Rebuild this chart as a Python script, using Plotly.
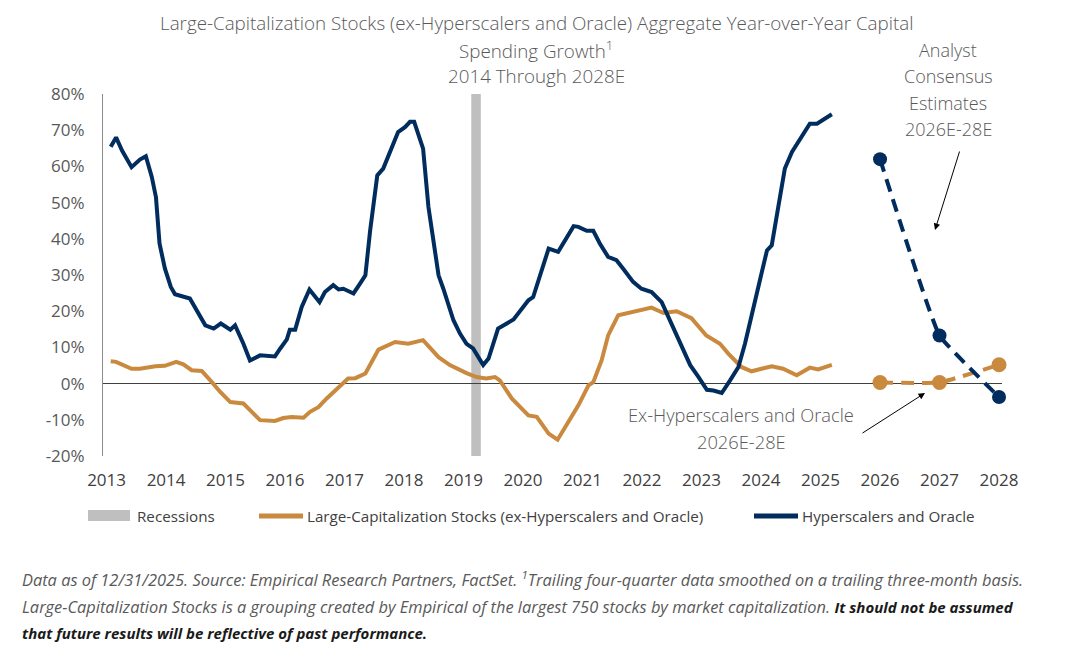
import plotly.graph_objects as go

# ---------------- data ----------------
years = list(range(2013, 2029))
year_labels = [str(y) for y in years]
y_ticks = list(range(-20, 81, 10))
y_labels = [f"{v}%" for v in y_ticks]

hyp_x = [2013.07, 2013.16, 2013.26, 2013.42, 2013.56, 2013.66, 2013.76, 2013.83, 2013.89, 2013.98,
         2014.08, 2014.15, 2014.40, 2014.52, 2014.66, 2014.80, 2014.92, 2015.08, 2015.16, 2015.30,
         2015.41, 2015.58, 2015.83, 2015.92, 2016.03, 2016.08, 2016.17, 2016.28, 2016.41, 2016.58,
         2016.67, 2016.81, 2016.90, 2016.98, 2017.15, 2017.26, 2017.35, 2017.43, 2017.55, 2017.65,
         2017.76, 2017.90, 2018.02, 2018.10, 2018.17, 2018.32, 2018.41, 2018.49, 2018.58, 2018.66,
         2018.83, 2018.94, 2019.05, 2019.16, 2019.33, 2019.42, 2019.58, 2019.84, 2019.98, 2020.09,
         2020.17, 2020.43, 2020.59, 2020.73, 2020.85, 2020.93, 2021.07, 2021.18, 2021.29, 2021.43,
         2021.57, 2021.68, 2021.85, 2021.99, 2022.16, 2022.33, 2022.47, 2022.64, 2022.81, 2022.95,
         2023.09, 2023.20, 2023.34, 2023.48, 2023.62, 2023.73, 2023.87, 2023.98, 2024.10, 2024.18,
         2024.29, 2024.40, 2024.52, 2024.68, 2024.82, 2024.94, 2025.19]
hyp_y = [65.4, 68.0, 64.4, 59.8, 61.9, 62.8, 57.1, 51.5, 38.7, 31.8,
         26.7, 24.7, 23.5, 20.2, 16.1, 15.2, 16.6, 14.9, 16.1, 11.0,
         6.4, 7.8, 7.5, 9.7, 12.2, 14.9, 14.9, 21.2, 26.0, 22.5,
         25.3, 27.2, 26.0, 26.2, 24.9, 27.6, 29.9, 42.3, 57.5, 59.4,
         64.0, 69.5, 70.9, 72.3, 72.3, 64.9, 48.8, 39.6, 29.9, 26.2,
         17.5, 13.8, 11.0, 9.7, 5.1, 6.9, 15.2, 17.7, 20.7, 23.0,
         23.9, 37.3, 36.4, 40.1, 43.5, 43.3, 42.2, 42.2, 38.7, 35.0,
         34.1, 31.8, 28.1, 26.2, 25.3, 22.5, 17.5, 11.0, 5.1, 1.8,
         -1.7, -1.9, -2.6, 0.9, 4.6, 11.0, 20.2, 28.5, 36.8, 38.2,
         48.8, 59.4, 64.0, 68.1, 71.8, 71.8, 74.4]

ex_x = [2013.07, 2013.16, 2013.42, 2013.56, 2013.82, 2013.98, 2014.17, 2014.29, 2014.43, 2014.60,
        2014.77, 2014.91, 2015.08, 2015.30, 2015.44, 2015.58, 2015.83, 2015.97, 2016.11, 2016.31,
        2016.42, 2016.56, 2016.70, 2016.92, 2017.06, 2017.18, 2017.35, 2017.57, 2017.71, 2017.85,
        2018.07, 2018.21, 2018.32, 2018.58, 2018.77, 2019.05, 2019.22, 2019.38, 2019.53, 2019.61,
        2019.81, 2020.09, 2020.23, 2020.43, 2020.58, 2020.71, 2020.93, 2021.10, 2021.18, 2021.32,
        2021.43, 2021.60, 2021.82, 2022.16, 2022.36, 2022.58, 2022.83, 2023.08, 2023.31, 2023.45,
        2023.67, 2023.84, 2024.18, 2024.37, 2024.60, 2024.82, 2024.96, 2025.19]
ex_y = [6.2, 6.0, 4.1, 4.1, 4.8, 4.9, 6.0, 5.3, 3.7, 3.5,
        0.4, -2.3, -5.1, -5.5, -7.8, -10.1, -10.3, -9.5, -9.2, -9.4,
        -7.8, -6.5, -4.1, -0.9, 1.4, 1.5, 2.8, 9.4, 10.6, 11.5,
        11.0, 11.7, 12.0, 7.3, 5.1, 2.9, 1.8, 1.4, 1.8, 0.9,
        -4.1, -8.8, -9.2, -13.8, -15.5, -12.0, -6.0, -0.5, 0.4, 6.4,
        13.3, 18.9, 19.8, 21.0, 19.5, 20.0, 18.1, 13.3, 11.0, 8.3,
        4.6, 3.4, 4.8, 4.1, 2.3, 4.4, 3.9, 5.2]

est_x = [2026, 2027, 2028]
hyp_est = [62.0, 13.3, -3.7]
ex_est = [0.3, 0.3, 5.2]

recession_start = [2019.13]
recession_end = [2019.29]

title_lines = ["Large-Capitalization Stocks (ex-Hyperscalers and Oracle) Aggregate Year-over-Year Capital",
               "Spending Growth<sup>1</sup>",
               "2014 Through 2028E"]
analyst_lines = ["Analyst", "Consensus", "Estimates", "2026E-28E"]
ex_note_lines = ["Ex-Hyperscalers and Oracle", "2026E-28E"]
legend_names = ["Recessions", "Large-Capitalization Stocks (ex-Hyperscalers and Oracle)", "Hyperscalers and Oracle"]

# ---------------- styling ----------------
BLUE = "#002d5e"
ORANGE = "#c98a3f"
GRAY_REC = "#bfbfbf"
TXT = "#595959"
FONT = "Open Sans"

W, H = 1073, 658
L, R, T, B = 103, 71, 94, 202
PW, PH = W - L - R, H - T - B


def px(xp):
    return (xp - L) / PW


def py(yp):
    return (H - B - yp) / PH


fig = go.Figure()

fig.add_trace(go.Scatter(x=ex_x, y=ex_y, mode="lines", line=dict(color=ORANGE, width=4),
                         showlegend=False, hoverinfo="skip"))
fig.add_trace(go.Scatter(x=hyp_x, y=hyp_y, mode="lines", line=dict(color=BLUE, width=4),
                         showlegend=False, hoverinfo="skip"))
fig.add_trace(go.Scatter(x=est_x, y=ex_est, mode="lines+markers",
                         line=dict(color=ORANGE, width=4, dash="13px,8px", shape="spline", smoothing=0.3),
                         marker=dict(color=ORANGE, size=15), showlegend=False, cliponaxis=False))
fig.add_trace(go.Scatter(x=est_x, y=hyp_est, mode="lines+markers",
                         line=dict(color=BLUE, width=4, dash="13px,8px", shape="spline", smoothing=0.3),
                         marker=dict(color=BLUE, size=14), showlegend=False, cliponaxis=False))

shapes = []
for x0, x1 in zip(recession_start, recession_end):
    shapes.append(dict(type="rect", xref="x", yref="paper", x0=x0, x1=x1, y0=0, y1=1,
                       fillcolor=GRAY_REC, line=dict(width=0), layer="below"))

# manual legend
leg_y = py(516)
shapes.append(dict(type="rect", xref="paper", yref="paper", x0=px(88), x1=px(130),
                   y0=py(521), y1=py(510), fillcolor=GRAY_REC, line=dict(width=0)))
shapes.append(dict(type="line", xref="paper", yref="paper", x0=px(259), x1=px(303),
                   y0=leg_y, y1=leg_y, line=dict(color=ORANGE, width=5)))
shapes.append(dict(type="line", xref="paper", yref="paper", x0=px(754), x1=px(798),
                   y0=leg_y, y1=leg_y, line=dict(color=BLUE, width=5)))

annotations = []
for txt, yy in zip(title_lines, [23, 50, 76]):
    annotations.append(dict(text=txt, xref="paper", yref="paper", x=px(536), y=py(yy),
                            xanchor="center", yanchor="middle", showarrow=False,
                            font=dict(family=FONT, size=18.8, color=TXT, weight=300)))
for txt, yy in zip(analyst_lines, [50, 76, 103, 129]):
    annotations.append(dict(text=txt, xref="paper", yref="paper", x=px(948), y=py(yy),
                            xanchor="center", yanchor="middle", showarrow=False,
                            font=dict(family=FONT, size=18, color=TXT, weight=300)))
for txt, yy in zip(ex_note_lines, [414, 441]):
    annotations.append(dict(text=txt, xref="paper", yref="paper", x=px(741), y=py(yy),
                            xanchor="center", yanchor="middle", showarrow=False,
                            font=dict(family=FONT, size=18.3, color=TXT, weight=300)))

# arrows
annotations.append(dict(text="", xref="paper", yref="paper", x=px(935), y=py(230),
                        ax=25, ay=-80, showarrow=True, arrowhead=2, arrowsize=1.3,
                        arrowwidth=1, arrowcolor="#000000"))
annotations.append(dict(text="", xref="paper", yref="paper", x=px(925), y=py(393),
                        ax=-64, ay=41, showarrow=True, arrowhead=2, arrowsize=1.3,
                        arrowwidth=1, arrowcolor="#000000"))

# legend labels
for txt, xx in zip(legend_names, [135, 305, 800]):
    annotations.append(dict(text=txt, xref="paper", yref="paper", x=px(xx), y=leg_y,
                            xanchor="left", yanchor="middle", showarrow=False,
                            font=dict(family=FONT, size=15.2, color="#404040")))

# footnote
foot = [
    ("<i>Data as of 12/31/2025. Source: Empirical Research Partners, FactSet. <sup>1</sup>Trailing four-quarter data smoothed on a trailing three-month basis.</i>", 579),
    ("<i>Large-Capitalization Stocks is a grouping created by Empirical of the largest 750 stocks by market capitalization. </i><span style='color:#1a1a1a;font-size:15px'><b><i>It should not be assumed</i></b></span>", 606),
    ("<span style='color:#1a1a1a;font-size:15px'><b><i>that future results will be reflective of past performance.</i></b></span>", 633),
]
for txt, yy in foot:
    annotations.append(dict(text=txt, xref="paper", yref="paper", x=px(20), y=py(yy),
                            xanchor="left", yanchor="middle", showarrow=False,
                            font=dict(family=FONT, size=16.4, color=TXT)))

fig.update_layout(
    width=W, height=H, autosize=False,
    margin=dict(l=L, r=R, t=T, b=B),
    paper_bgcolor="white", plot_bgcolor="white",
    shapes=shapes, annotations=annotations,
    showlegend=False,
    xaxis=dict(range=[2012.94, 2028.05], tickvals=years, ticktext=year_labels,
               showgrid=False, zeroline=False, showline=False, ticks="",
               tickfont=dict(family=FONT, size=17, color="#404040"), ticklabelstandoff=12),
    yaxis=dict(range=[-20, 80], tickvals=y_ticks, ticktext=y_labels,
               showgrid=False, zeroline=True, zerolinecolor="#404040", zerolinewidth=1,
               showline=True, linecolor="#8c8c8c", linewidth=1, ticks="",
               tickfont=dict(family=FONT, size=17, color=TXT), ticklabelstandoff=14),
)

fig.write_html("out.html")
